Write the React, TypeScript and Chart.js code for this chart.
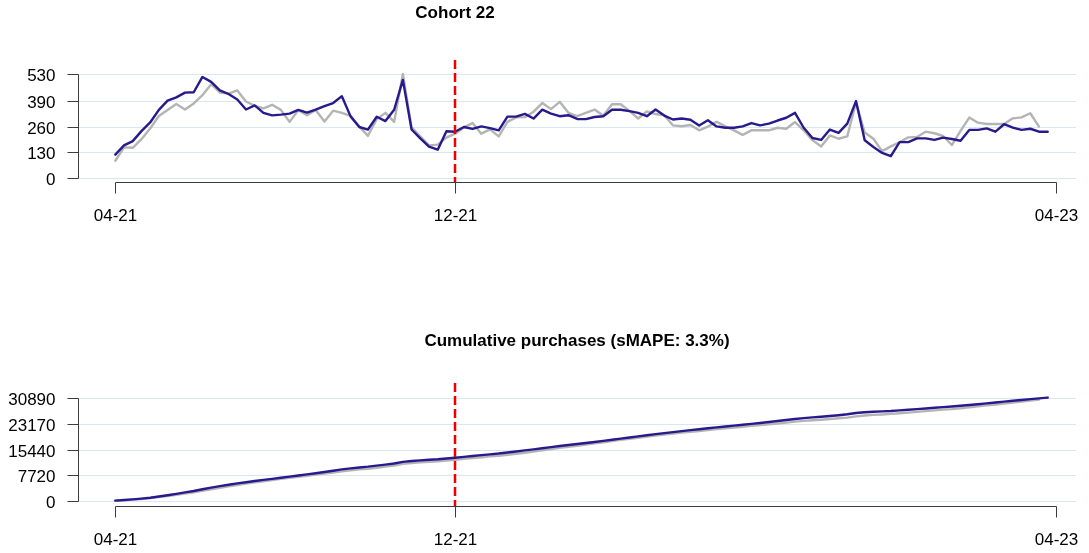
import React, { useEffect, useRef } from 'react';
import { Chart, registerables } from 'chart.js';

Chart.register(...registerables);

// ---- data (weekly purchases, cohort 22) ----
const PREDICTED = [
  119, 166, 188, 239, 283, 347, 394, 411, 435, 437, 515, 490, 447, 428, 400,
  349, 370, 332, 319, 323, 328, 347, 333, 348, 366, 382, 417, 314, 260, 247,
  312, 290, 348, 500, 247, 202, 160, 144, 238, 236, 260, 250, 263, 254, 243, 313,
  313, 327, 303, 348, 328, 315, 320, 301, 300, 311, 315, 348, 348, 341, 332,
  315, 349, 318, 298, 303, 297, 268, 294, 263, 256, 256, 263, 280, 268, 277, 293, 307, 332,
  256, 204, 194, 247, 230, 277, 392, 192, 158, 128, 111, 183, 183, 202,
  202, 194, 206, 199, 190, 245, 245, 253, 236, 274, 257, 245, 251, 236, 236,
];

const ACTUAL = [
  88, 156, 154, 198, 252, 316, 347, 377, 349, 380, 422, 478, 436, 430, 446,
  390, 368, 355, 373, 347, 286, 345, 320, 347, 288, 343, 332, 316, 262, 215,
  300, 332, 286, 530, 258, 212, 166, 170, 206, 226, 258, 280, 226, 248, 212, 286,
  309, 310, 338, 382, 351, 388, 332, 315, 332, 349, 317, 376, 376, 342, 303,
  339, 326, 320, 268, 264, 270, 243, 262, 287, 263, 243, 220, 243, 243, 243, 256, 251, 285,
  243, 193, 161, 217, 200, 212, 385, 232, 200, 137, 161, 182, 207, 209,
  236, 228, 214, 168, 240, 308, 282, 275, 275, 275, 304, 309, 330, 262,
];

const X_TICK_POS = [0, 39, 108];
const X_TICK_LABELS = ['04-21', '12-21', '04-23'];
const SPLIT_WEEK = 39;

const TOP_Y_TICKS = [0, 130, 260, 390, 530];
const CUM_Y_TICKS = [0, 7720, 15440, 23170, 30890];

const TOP_TITLE = 'Cohort 22';
const BOTTOM_TITLE = 'Cumulative purchases (sMAPE: 3.3%)';

// ---- styles ----
const BLUE = '#261a8c';
const GRAY = '#b4b4b4';
const GRID = '#d6e8f2';
const AXIS = '#3c3c3c';
const RED = '#ee0000';
const FONT = '"Liberation Sans", Arial, Helvetica, sans-serif';
const W = 1089;

const cumsum = (a: number[]) => {
  let s = 0;
  return a.map((v) => (s += v));
};

const toXY = (a: number[]) => a.map((v, i) => ({ x: i, y: v }));

type PanelCfg = {
  title: string;
  titleX: number;
  titleBase: number;
  yTicks: number[];
  redTop: number;
  gridRight: number;
};

const makeDecor = (cfg: PanelCfg) => ({
  id: 'rdecor',
  beforeDatasetsDraw(chart: any) {
    const { ctx, chartArea } = chart;
    const x = chart.scales.x;
    const y = chart.scales.y;
    ctx.save();
    // grid lines
    ctx.strokeStyle = GRID;
    ctx.lineWidth = 1.2;
    cfg.yTicks.forEach((t) => {
      const py = Math.round(y.getPixelForValue(t)) + 0.5;
      ctx.beginPath();
      ctx.moveTo(chartArea.left, py);
      ctx.lineTo(cfg.gridRight, py);
      ctx.stroke();
    });
    // y axis
    ctx.strokeStyle = AXIS;
    ctx.lineWidth = 1;
    const ax = Math.round(chartArea.left) + 0.5;
    const y0 = Math.round(y.getPixelForValue(cfg.yTicks[0])) + 0.5;
    const y1 = Math.round(y.getPixelForValue(cfg.yTicks[cfg.yTicks.length - 1])) + 0.5;
    ctx.beginPath();
    ctx.moveTo(ax, y0);
    ctx.lineTo(ax, y1);
    ctx.stroke();
    ctx.font = `17px ${FONT}`;
    ctx.fillStyle = '#000';
    ctx.textAlign = 'right';
    ctx.textBaseline = 'alphabetic';
    cfg.yTicks.forEach((t) => {
      const py = Math.round(y.getPixelForValue(t)) + 0.5;
      ctx.beginPath();
      ctx.moveTo(ax - 11, py);
      ctx.lineTo(ax, py);
      ctx.stroke();
      ctx.fillText(String(t), ax - 23, py + 6);
    });
    // x axis
    const by = Math.round(chartArea.bottom) + 0.5;
    const xa = x.getPixelForValue(X_TICK_POS[0]);
    const xb = x.getPixelForValue(X_TICK_POS[X_TICK_POS.length - 1]);
    ctx.beginPath();
    ctx.moveTo(Math.round(xa) + 0.5, by);
    ctx.lineTo(Math.round(xb) + 0.5, by);
    ctx.stroke();
    ctx.textAlign = 'center';
    X_TICK_POS.forEach((p, i) => {
      const px = Math.round(x.getPixelForValue(p)) + 0.5;
      ctx.beginPath();
      ctx.moveTo(px, by);
      ctx.lineTo(px, by + 11);
      ctx.stroke();
      ctx.fillText(X_TICK_LABELS[i], px, by + 38);
    });
    // title
    ctx.font = `bold 17px ${FONT}`;
    ctx.textAlign = 'center';
    ctx.fillText(cfg.title, cfg.titleX, cfg.titleBase);
    ctx.restore();
  },
  afterDatasetsDraw(chart: any) {
    const { ctx, chartArea } = chart;
    const x = chart.scales.x;
    const px = Math.round(x.getPixelForValue(SPLIT_WEEK));
    ctx.save();
    ctx.strokeStyle = RED;
    ctx.lineWidth = 2.5;
    ctx.setLineDash([9, 4]);
    ctx.beginPath();
    ctx.moveTo(px, cfg.redTop);
    ctx.lineTo(px, chartArea.bottom);
    ctx.stroke();
    ctx.restore();
  },
});

const makeConfig = (
  pred: number[],
  act: number[],
  yMin: number,
  yMax: number,
  padding: { top: number; bottom: number },
  cfg: PanelCfg
): any => ({
  type: 'line',
  data: {
    datasets: [
      {
        data: toXY(pred),
        borderColor: BLUE,
        borderWidth: 2.4,
        pointRadius: 0,
        tension: 0,
        borderJoinStyle: 'round',
        borderCapStyle: 'round',
      },
      {
        data: toXY(act),
        borderColor: GRAY,
        borderWidth: 2.4,
        pointRadius: 0,
        tension: 0,
        borderJoinStyle: 'round',
        borderCapStyle: 'round',
      },
    ],
  },
  options: {
    responsive: false,
    animation: false,
    devicePixelRatio: 1,
    layout: { padding: { left: 78, right: 4, top: padding.top, bottom: padding.bottom } },
    plugins: { legend: { display: false }, tooltip: { enabled: false }, title: { display: false } },
    scales: {
      x: { type: 'linear', display: false, min: -4.28, max: 111.28 },
      y: { type: 'linear', display: false, min: yMin, max: yMax },
    },
  },
  plugins: [makeDecor(cfg)],
});

export default function App() {
  const topRef = useRef<HTMLCanvasElement>(null);
  const botRef = useRef<HTMLCanvasElement>(null);

  useEffect(() => {
    const c1 = new Chart(
      topRef.current!,
      makeConfig(PREDICTED, ACTUAL, -20.4, 550.4, { top: 70, bottom: 98 }, {
        title: TOP_TITLE,
        titleX: 455,
        titleBase: 18,
        yTicks: TOP_Y_TICKS,
        redTop: 60,
        gridRight: 1076,
      })
    );
    const c2 = new Chart(
      botRef.current!,
      makeConfig(cumsum(PREDICTED), cumsum(ACTUAL), -1504, 32183, { top: 114, bottom: 47 }, {
        title: BOTTOM_TITLE,
        titleX: 577,
        titleBase: 66,
        yTicks: CUM_Y_TICKS,
        redTop: 103,
        gridRight: 1076,
      })
    );
    return () => {
      c1.destroy();
      c2.destroy();
    };
  }, []);

  return (
    <div style={{ position: 'absolute', left: 0, top: 0, width: W, height: 553, background: '#fff' }}>
      <canvas ref={topRef} width={W} height={280} style={{ display: 'block', width: W, height: 280 }} />
      <canvas ref={botRef} width={W} height={273} style={{ display: 'block', width: W, height: 273 }} />
    </div>
  );
}
